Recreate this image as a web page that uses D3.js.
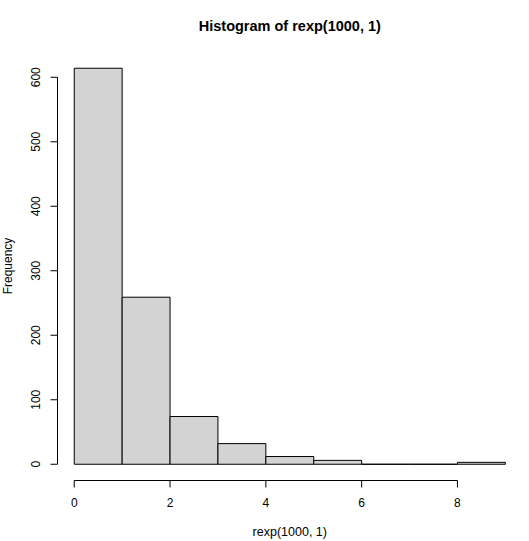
<!DOCTYPE html>
<html>
<head>
<meta charset="utf-8">
<script src="https://cdn.jsdelivr.net/npm/d3@7"></script>
<style>
  body { margin: 0; background: #fff; }
  svg text { font-family: "Liberation Sans", Arial, sans-serif; fill: #000; }
</style>
</head>
<body>
<div id="chart"></div>
<script>
// histogram bins (left edges) and counts
const binStarts = [0, 1, 2, 3, 4, 5, 6, 7, 8];
const binWidth = 1;
const counts = [614, 259, 74, 32, 12, 6, 0, 0, 3];
const xTicks = [0, 2, 4, 6, 8];
const yTicks = [0, 100, 200, 300, 400, 500, 600];

const width = 529, height = 541;

const svg = d3.select("#chart").append("svg")
    .attr("width", width)
    .attr("height", height);

// R style 4% padding on data range
const xScale = d3.scaleLinear().domain([-0.36, 9.36]).range([57, 522.6]);
const yScale = d3.scaleLinear().domain([-24.56, 638.56]).range([480.1, 52.4]);

// bars drawn as closed paths so empty bins still show as a flat line
function barPath(d, i) {
    const p = d3.path();
    const x0 = xScale(d), x1 = xScale(d + binWidth);
    const y0 = yScale(0), y1 = yScale(counts[i]);
    p.moveTo(x0, y0);
    p.lineTo(x0, y1);
    p.lineTo(x1, y1);
    p.lineTo(x1, y0);
    p.closePath();
    return p.toString();
}

svg.append("g").selectAll("path")
    .data(binStarts)
    .enter().append("path")
    .attr("d", barPath)
    .attr("fill", "#d3d3d3")
    .attr("stroke", "#000")
    .attr("stroke-width", 1);

// x axis (R draws the line only between first and last tick)
const xAxis = svg.append("g").attr("transform", "translate(0,480.5)");
xAxis.append("line")
    .attr("x1", xScale(xTicks[0])).attr("x2", xScale(xTicks[xTicks.length - 1]))
    .attr("stroke", "#000");
xAxis.selectAll(".tick")
    .data(xTicks)
    .enter().append("line")
    .attr("x1", (d) => xScale(d)).attr("x2", (d) => xScale(d))
    .attr("y1", 0).attr("y2", 7)
    .attr("stroke", "#000");
xAxis.selectAll(".lbl")
    .data(xTicks)
    .enter().append("text")
    .attr("x", (d) => xScale(d))
    .attr("y", 26)
    .attr("text-anchor", "middle")
    .style("font-size", "12px")
    .text((d) => d);

// y axis
const yAxis = svg.append("g").attr("transform", "translate(57.5,0)");
yAxis.append("line")
    .attr("y1", yScale(yTicks[0])).attr("y2", yScale(yTicks[yTicks.length - 1]))
    .attr("stroke", "#000");
yAxis.selectAll(".tick")
    .data(yTicks)
    .enter().append("line")
    .attr("y1", (d) => yScale(d)).attr("y2", (d) => yScale(d))
    .attr("x1", 0).attr("x2", -7)
    .attr("stroke", "#000");
yAxis.selectAll(".lbl")
    .data(yTicks)
    .enter().append("text")
    .attr("transform", (d) => `translate(-18,${yScale(d)}) rotate(-90)`)
    .attr("text-anchor", "middle")
    .style("font-size", "12px")
    .text((d) => d);

// titles
svg.append("text")
    .attr("x", 289.8).attr("y", 31)
    .attr("text-anchor", "middle")
    .style("font-size", "14.5px")
    .style("font-weight", "bold")
    .text("Histogram of rexp(1000, 1)");

svg.append("text")
    .attr("x", 289.8).attr("y", 536)
    .attr("text-anchor", "middle")
    .style("font-size", "12.5px")
    .text("rexp(1000, 1)");

svg.append("text")
    .attr("transform", "translate(12,266) rotate(-90)")
    .attr("text-anchor", "middle")
    .style("font-size", "12px")
    .text("Frequency");
</script>
</body>
</html>
